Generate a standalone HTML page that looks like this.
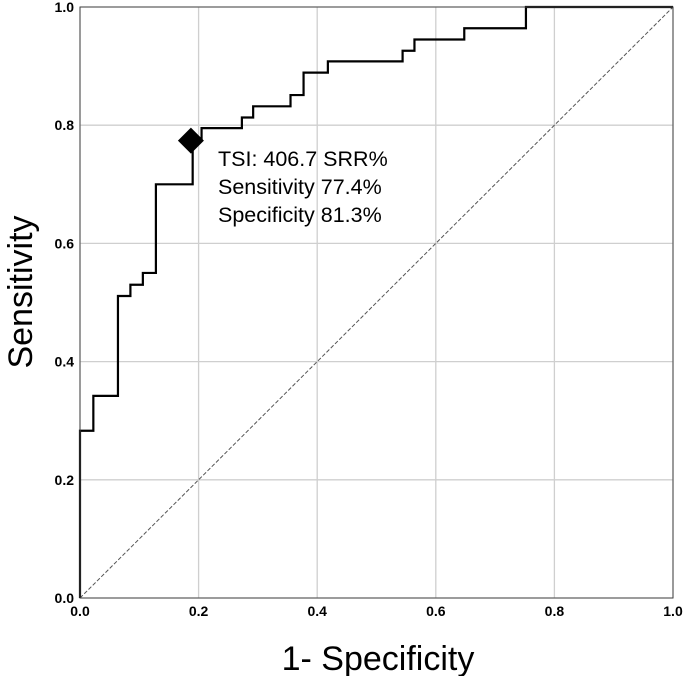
<!DOCTYPE html>
<html><head><meta charset="utf-8"><style>
body{margin:0;background:#fff;}
svg text{font-family:"Liberation Sans",Arial,sans-serif;fill:#000;}
</style></head><body>
<svg id="chart" width="685" height="676" viewBox="0 0 685 676" xmlns="http://www.w3.org/2000/svg">
<g id="grid"></g>
<g id="ticks"></g>
<line id="diag" stroke="#555" stroke-width="1" stroke-dasharray="4,2"/>
<path id="roc" fill="none" stroke="#000" stroke-width="2.2"/>
<rect id="frame" fill="none" stroke="#444" stroke-width="1"/>
<path id="marker" fill="#000"/>
<g font-size="21.5">
<text x="218" y="166">TSI: 406.7 SRR%</text>
<text x="218" y="194">Sensitivity 77.4%</text>
<text x="218" y="222">Specificity 81.3%</text>
</g>
<text x="378" y="670" text-anchor="middle" font-size="34">1- Specificity</text>
<text transform="translate(32,292) rotate(-90)" text-anchor="middle" font-size="34">Sensitivity</text>
</svg>
<script>
const fpr = [0,0,0.0225,0.0225,0.064,0.064,0.085,0.085,0.106,0.106,0.128,0.128,0.19,0.19,0.205,0.205,0.273,0.273,0.292,0.292,0.355,0.355,0.377,0.377,0.418,0.418,0.544,0.544,0.564,0.564,0.648,0.648,0.752,0.752,1.0];
const tpr = [0,0.283,0.283,0.342,0.342,0.511,0.511,0.530,0.530,0.550,0.550,0.700,0.700,0.777,0.777,0.795,0.795,0.813,0.813,0.832,0.832,0.851,0.851,0.889,0.889,0.908,0.908,0.926,0.926,0.945,0.945,0.964,0.964,1.0,1.0];
const tickValues = [0,0.2,0.4,0.6,0.8,1.0];
const tickLabels = ["0.0","0.2","0.4","0.6","0.8","1.0"];
const cutoff = [0.187,0.774];
const X0=80,X1=673,Y0=598,Y1=7;
const sx=v=>X0+v*(X1-X0), sy=v=>Y0-v*(Y0-Y1);
const NS="http://www.w3.org/2000/svg";
const grid=document.getElementById('grid'), ticks=document.getElementById('ticks');
tickValues.forEach((t,i)=>{
  const gx=document.createElementNS(NS,'line');
  
  
  gx.setAttribute('x1',sx(t));gx.setAttribute('x2',sx(t));gx.setAttribute('y1',Y1);gx.setAttribute('y2',Y0);
  gx.setAttribute('stroke','#cfcfcf');gx.setAttribute('stroke-width','1.3');grid.appendChild(gx);
  const gy=document.createElementNS(NS,'line');
  
  
  gy.setAttribute('y1',sy(t));gy.setAttribute('y2',sy(t));gy.setAttribute('x1',X0);gy.setAttribute('x2',X1);
  gy.setAttribute('stroke','#cfcfcf');gy.setAttribute('stroke-width','1.3');grid.appendChild(gy);
  const tx=document.createElementNS(NS,'text');
  
  
  tx.setAttribute('x',sx(t));tx.setAttribute('y',Y0+18);tx.setAttribute('text-anchor','middle');
  tx.setAttribute('font-size','14');tx.setAttribute('font-weight','bold');tx.setAttribute('fill','#222');
  tx.textContent=tickLabels[i];ticks.appendChild(tx);
  const ty=document.createElementNS(NS,'text');
  
  
  ty.setAttribute('x',X0-6);ty.setAttribute('y',sy(t)+5);ty.setAttribute('text-anchor','end');
  ty.setAttribute('font-size','14');ty.setAttribute('font-weight','bold');ty.setAttribute('fill','#222');
  ty.textContent=tickLabels[i];ticks.appendChild(ty);
});
const d=document.getElementById('diag');
d.setAttribute('x1',sx(0));d.setAttribute('y1',sy(0));d.setAttribute('x2',sx(1));d.setAttribute('y2',sy(1));
document.getElementById('roc').setAttribute('d',fpr.map((v,i)=>(i?'L':'M')+sx(v)+','+sy(tpr[i])).join(' '));
const f=document.getElementById('frame');
f.setAttribute('x',X0);f.setAttribute('y',Y1);f.setAttribute('width',X1-X0);f.setAttribute('height',Y0-Y1);
const cx=sx(cutoff[0]),cy=sy(cutoff[1]),r=13;
document.getElementById('marker').setAttribute('d',`M${cx},${cy-r}L${cx+r},${cy}L${cx},${cy+r}L${cx-r},${cy}Z`);
</script>
</body></html>
